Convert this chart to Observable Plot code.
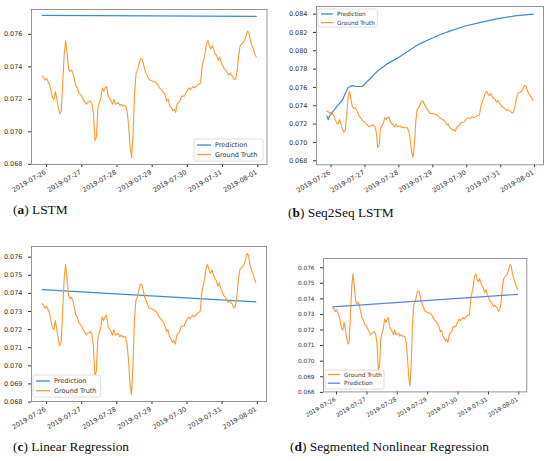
<!DOCTYPE html>
<html><head><meta charset="utf-8">
<script src="https://cdn.jsdelivr.net/npm/d3@7"></script>
<script src="https://cdn.jsdelivr.net/npm/@observablehq/plot@0.6"></script>
<style>
body{margin:0;background:#fff;width:550px;height:461px;position:relative;overflow:hidden;font-family:"DejaVu Sans",sans-serif}
.panel{position:absolute}
.cap{position:absolute;font-family:"Liberation Serif",serif;font-size:13.4px;color:#111;white-space:nowrap}
.leg{position:absolute;overflow:visible}
</style></head><body>
<script>
// hours after 2019-07-26 00:00 UTC
const hours = [-3,-2,-1,0,2,4,5,6,7,8,9,10,11,12,13,14,15,16,17,18,20,21,22,24,25,27,28,30,31,32,33,34,35,36,37,38,39,40,41,42,44,45,46,47,49,50,51,52,54,55,56,57,58,59,60,61,62,64,65,66,67,69,70,73,75,77,80,81,82,83,84,85,86,87,88,89,91,92,94,95,97,98,100,101,103,105,106,108,109,110,111,112,113,115,116,117,118,119,120,121,123,124,125,126,127,128,129,130,131,132,134,135,137,138,139,140,141,142,143];
const groundTruth = [0.07343,0.07335,0.07318,0.0733,0.0729,0.0721,0.0720,0.0725,0.0720,0.0715,0.0711,0.0713,0.0730,0.0748,0.0756,0.0748,0.0739,0.0737,0.0738,0.0736,0.0728,0.0727,0.0724,0.0722,0.0720,0.0717,0.0718,0.0719,0.0717,0.0711,0.06945,0.0697,0.0715,0.0718,0.0721,0.0727,0.0725,0.0727,0.0728,0.0722,0.0719,0.0717,0.0720,0.0717,0.0718,0.0716,0.0717,0.0716,0.0716,0.0712,0.0703,0.0690,0.06842,0.0699,0.0724,0.0736,0.0738,0.0745,0.0745,0.0742,0.0738,0.0734,0.0732,0.0731,0.0730,0.0727,0.0724,0.0722,0.0719,0.0720,0.0716,0.0715,0.0713,0.0714,0.0712,0.0717,0.0719,0.0722,0.0722,0.0724,0.0727,0.0726,0.0728,0.0727,0.0729,0.0730,0.0740,0.0748,0.0754,0.0756,0.0753,0.0751,0.0753,0.0748,0.0747,0.0744,0.0746,0.0743,0.0741,0.0739,0.0737,0.0735,0.0736,0.0735,0.0734,0.0732,0.0733,0.0738,0.0747,0.0753,0.0755,0.0756,0.0762,0.0761,0.0756,0.0753,0.0751,0.0748,0.0746];

const lstmHours = [-3,143];
const lstmPred = [0.07717,0.07711];

const seqHours = [-3,-2,-1,2,5,8,10,12,15,18,22,24,28,33,40,48,55,62,69,76,85,95,106,118,130,143];
const seqPred = [0.0729,0.0725,0.0729,0.0735,0.0741,0.0746,0.0753,0.0760,0.0762,0.0761,0.0761,0.0764,0.0770,0.0778,0.0786,0.0793,0.0800,0.0807,0.0812,0.0817,0.0822,0.0827,0.0831,0.0835,0.0838,0.0840];

const linHours = [-3,143];
const linPred = [0.07421,0.07353];

const segHours = [-3,143];
const segPred = [0.07348,0.07429];

const dayTicks = ["2019-07-26","2019-07-27","2019-07-28","2019-07-29","2019-07-30","2019-07-31","2019-08-01"];
const ticksA = [0.068,0.070,0.072,0.074,0.076];
const ticksB = [0.068,0.070,0.072,0.074,0.076,0.078,0.080,0.082,0.084];
const ticksC = [0.068,0.069,0.070,0.071,0.072,0.073,0.074,0.075,0.076];
const ticksD = [0.068,0.069,0.070,0.071,0.072,0.073,0.074,0.075,0.076];

const T0 = Date.UTC(2019,6,26);
const toDate = h => new Date(T0 + h*3600e3);
const rows = (hs, vs) => hs.map((h,i)=>({t:toDate(h), v:vs[i]}));
const truthRows = rows(hours, groundTruth);
const dayDates = dayTicks.map(s=>new Date(s+"T00:00Z"));

const BLUE = "#3f8ccc", ORANGE = "#ff9833", BLUE2 = "#5f82ea";

function panel(o){
  const mL=34,mT=4,mR=8,mB=44;
  const W=o.fw+mL+mR, H=o.fh+mT+mB;
  const predLine = Plot.line(rows(o.ph,o.pv),{x:"t",y:"v",stroke:o.pc,strokeWidth:1.2});
  const truthLine = Plot.line(truthRows,{x:"t",y:"v",stroke:ORANGE,strokeWidth:1.1});
  const svg = Plot.plot({
    width:W, height:H, marginLeft:mL, marginTop:mT, marginRight:mR, marginBottom:mB,
    style:{fontSize:o.fs+"px", fontFamily:"DejaVu Sans", color:"#333", background:"transparent", overflow:"visible"},
    x:{type:"utc", domain:[toDate(-10.3), toDate(150.3)], ticks: dayDates,
       tickFormat:()=>"", tickSize:3, label:null},
    y:{domain:o.yd, ticks:o.yt, tickFormat:d3.format(".3f"), tickSize:3, label:null},
    marks:[
      ...(o.truthFirst ? [truthLine, predLine] : [predLine, truthLine]),
      Plot.text(dayDates,{x:d=>d, frameAnchor:"bottom", text:d3.utcFormat("%Y-%m-%d"),
        rotate:-30, textAnchor:"end", lineAnchor:"top", dy:5, dx:-2.5, fill:"#333", fontSize:o.fs}),
      Plot.frame({stroke:"#8a8a8a", strokeWidth:0.9})
    ]
  });
  svg.classList.add("panel");
  svg.style.left=(o.left-mL)+"px";
  svg.style.top=(o.top-mT)+"px";
  document.body.appendChild(svg);
}

function legend(o){
  const svg=d3.create("svg").attr("class","leg")
    .attr("width",o.w+2).attr("height",o.h+2)
    .style("left",(o.x-1)+"px").style("top",(o.y-1)+"px");
  svg.append("rect").attr("x",1).attr("y",1).attr("width",o.w).attr("height",o.h)
    .attr("rx",2).attr("fill","rgba(255,255,255,0.85)").attr("stroke","#d6d6d6").attr("stroke-width",0.8);
  o.items.forEach((it,i)=>{
    const y=1+o.y0+i*o.dy;
    svg.append("line").attr("x1",1+o.lx).attr("x2",1+o.lx+o.lw).attr("y1",y).attr("y2",y)
      .attr("stroke",it.c).attr("stroke-width",1.3);
    svg.append("text").attr("x",1+o.lx+o.lw+4).attr("y",y).attr("dy","0.35em")
      .attr("font-size",o.fs).attr("font-family","DejaVu Sans").attr("fill","#333").text(it.l);
  });
  document.body.appendChild(svg.node());
}

function caption(x,y,letter,text){
  const c=document.createElement("div");
  c.className="cap";
  c.style.left=x+"px"; c.style.top=y+"px";
  c.innerHTML="(<b>"+letter+"</b>) "+text;
  document.body.appendChild(c);
}

panel({left:30.5, top:9, fw:235.5, fh:155, yd:[0.06799,0.07753], yt:ticksA, ph:lstmHours, pv:lstmPred, pc:BLUE, fs:6.5});
panel({left:316, top:5.7, fw:227, fh:158.3, yd:[0.06756,0.08483], yt:ticksB, ph:seqHours, pv:seqPred, pc:BLUE, fs:6.5});
panel({left:31, top:245.7, fw:235, fh:155, yd:[0.06803,0.07659], yt:ticksC, ph:linHours, pv:linPred, pc:BLUE, fs:6.5});
panel({left:322.7, top:258.3, fw:203.3, fh:133.4, yd:[0.06803,0.07659], yt:ticksD, ph:segHours, pv:segPred, pc:BLUE2, fs:5.8, truthFirst:true});

legend({x:194,y:139,w:69,h:22,fs:6.5,lx:3,lw:14,y0:6,dy:9.5,items:[{l:"Prediction",c:BLUE},{l:"Ground Truth",c:ORANGE}]});
legend({x:317.7,y:8.7,w:59.3,h:18,fs:5.8,lx:3,lw:12,y0:5,dy:8.6,items:[{l:"Prediction",c:BLUE},{l:"Ground Truth",c:ORANGE}]});
legend({x:33.3,y:375,w:67.7,h:22,fs:6.5,lx:3,lw:14,y0:6,dy:9.7,items:[{l:"Prediction",c:BLUE},{l:"Ground Truth",c:ORANGE}]});
legend({x:325,y:370,w:59,h:19,fs:5.8,lx:3,lw:12,y0:4.5,dy:8.7,items:[{l:"Ground Truth",c:ORANGE},{l:"Prediction",c:BLUE2}]});

caption(13,202,"a","LSTM");
caption(288,205,"b","Seq2Seq LSTM");
caption(13,439,"c","Linear Regression");
caption(290,439,"d","Segmented Nonlinear Regression");
</script>
</body></html>
